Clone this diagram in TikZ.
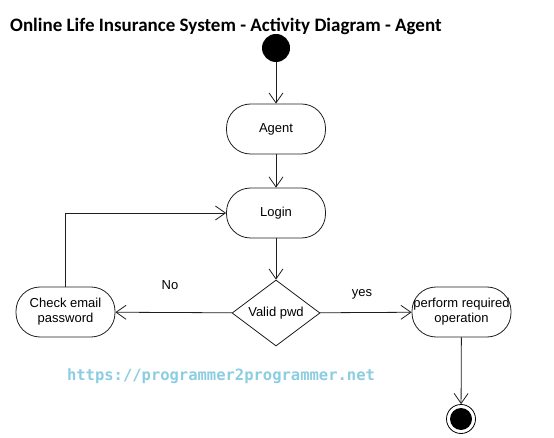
\documentclass[tikz,border=0pt]{standalone}
\usepackage{fontspec}
\setmainfont{Liberation Sans}
\newfontfamily\titlefont{Carlito}
\newfontfamily\wmfont{DejaVu Sans Mono}
\usetikzlibrary{arrows.meta,shapes.geometric}
\definecolor{wmblue}{RGB}{140,205,225}
\definecolor{linegray}{RGB}{30,30,30}
\begin{document}
\begin{tikzpicture}[x=1pt,y=-1pt,
  act/.style={draw=linegray,line width=0.8pt,rectangle,rounded corners=24pt,minimum width=99pt,minimum height=50pt,inner sep=1pt,align=center,font=\fontsize{13}{15}\selectfont},
  dec/.style={draw=linegray,line width=0.8pt,diamond,minimum width=88pt,minimum height=66pt,inner sep=0pt,aspect=1.33,font=\fontsize{13}{15}\selectfont},
  flow/.style={draw=linegray,line width=0.8pt,-{Straight Barb[length=10pt,width=14pt,line width=0.8pt]}},
  lbl/.style={font=\fontsize{13}{15}\selectfont}
]
\useasboundingbox (0,0) rectangle (554,438);
\node[anchor=base west,font=\titlefont\bfseries\fontsize{19}{22}\selectfont,inner sep=0pt] (title) at (10,32) {Online Life Insurance System - Activity Diagram - Agent};
\node[circle,fill=black,minimum size=28pt,inner sep=0pt] (start) at (276,48) {};
\node[act] (agent) at (276,129) {Agent};
\node[act] (login) at (276,213) {Login};
\node[dec] (valid) at (276,313) {Valid pwd};
\node[act] (check) at (65.5,312) {Check email\\password};
\node[act] (perform) at (461.5,312) {perform required\\operation};
\node[circle,draw=black,line width=0.8pt,minimum size=29pt,inner sep=0pt] (final) at (461,419) {};
\node[circle,fill=black,minimum size=22pt,inner sep=0pt] (finalin) at (final.center) {};
\coordinate (loopc) at (65,213);
\draw[flow] (start) -- (agent);
\draw[flow] (agent) -- (login);
\draw[flow] (login) -- (valid);
\draw[flow] (valid) -- (check);
\draw[flow] (valid) -- (perform);
\draw[flow] (check.north -| loopc) -- (loopc) -- (login.west);
\draw[flow] (perform) -- (final);
\node[lbl] (no) at (170,285) {No};
\node[lbl] (yes) at (362,294) {yes};
\node[font=\wmfont\bfseries\fontsize{15.5}{18}\selectfont,text=wmblue] (wm) at (221,376) {https://programmer2programmer.net};
\end{tikzpicture}
\end{document}
